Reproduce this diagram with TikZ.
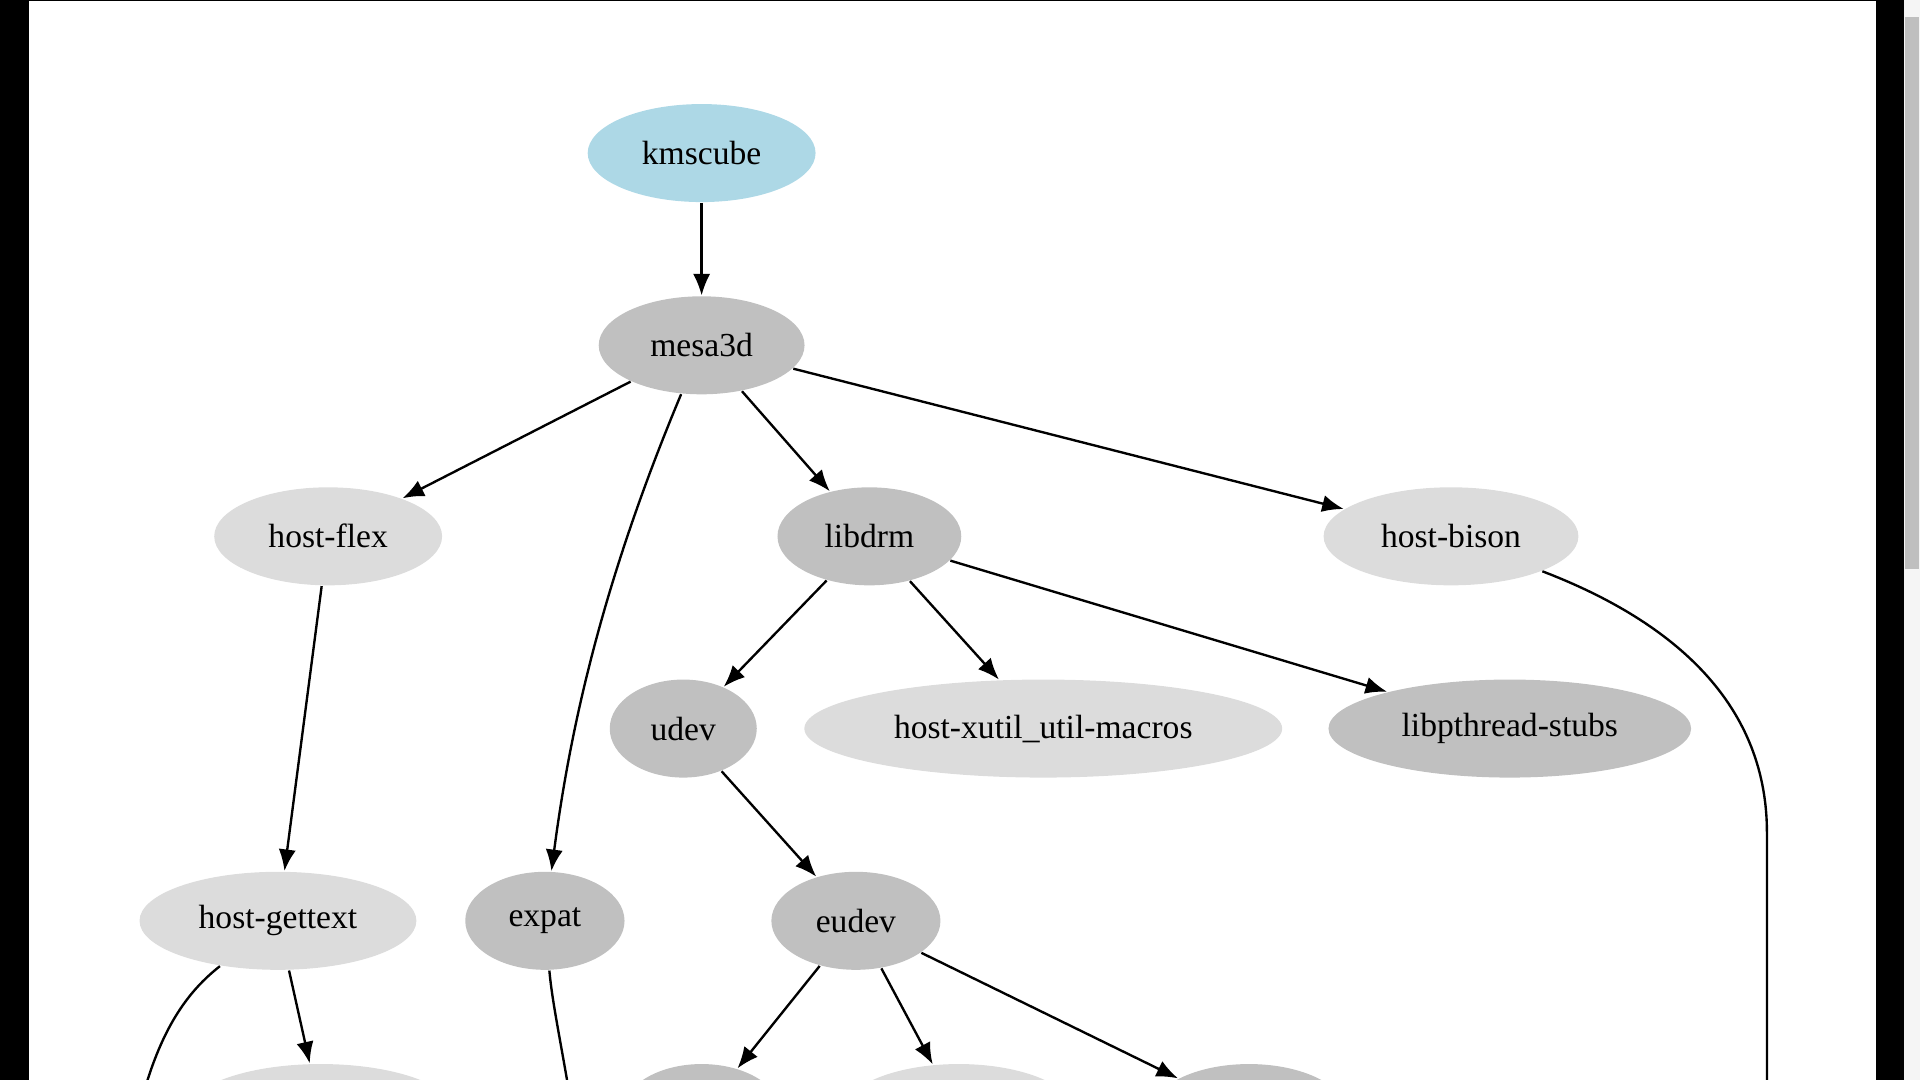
\documentclass[tikz,border=0pt]{standalone}
\usepackage{fontspec}
\setmainfont{Liberation Serif}
\usetikzlibrary{arrows.meta,shapes.geometric}
\definecolor{pkgblue}{RGB}{173,216,230}
\definecolor{pkgdark}{RGB}{192,192,192}
\definecolor{pkglight}{RGB}{220,220,220}
\begin{document}
\begin{tikzpicture}[x=0.01cm,y=-0.01cm,
    pkg/.style={ellipse, draw=none, minimum height=0.8cm, inner sep=0pt, font=\fontsize{7.8}{9}\selectfont},
    dark/.style={pkg, fill=pkgdark},
    light/.style={pkg, fill=pkglight},
    dep/.style={-{Latex[length=5pt,width=4pt]}, line width=0.55pt}]
    \useasboundingbox (0,0) rectangle (1568,882);
    \begin{scope}
    \clip (24,0) rectangle (1532,882);
    \node[pkg, fill=pkgblue, minimum width=1.86cm] (kmscube) at (573,125) {kmscube};
    \node[dark, minimum width=1.68cm] (mesa3d) at (573,282) {mesa3d};
    \node[light, minimum width=1.86cm] (hostflex) at (268,438) {host-flex};
    \node[dark, minimum width=1.5cm] (libdrm) at (710,438) {libdrm};
    \node[light, minimum width=2.08cm] (hostbison) at (1185,438) {host-bison};
    \node[dark, minimum width=1.2cm] (udev) at (558,595) {udev};
    \node[light, minimum width=3.9cm] (xutil) at (852,595) {host-xutil\_util-macros};
    \node[dark, minimum width=2.96cm] (pthread) at (1233,595) {libpthread-stubs};
    \node[light, minimum width=2.26cm] (hostgettext) at (227,752) {host-gettext};
    \node[dark, minimum width=1.3cm] (expat) at (445,752) {expat};
    \node[dark, minimum width=1.38cm] (eudev) at (699,752) {eudev};
    % cut off at the bottom
    \node[light, minimum width=2.2cm] (lowa) at (262,909) {};
    \node[dark, minimum width=1.3cm] (lowb) at (573,909) {};
    \node[light, minimum width=1.9cm] (lowc) at (783,909) {};
    \node[dark, minimum width=1.6cm] (lowd) at (1020,909) {};
    \coordinate (offa) at (100,980);
    \coordinate (offb) at (478,980);
    \coordinate (offc) at (1443,980);

    \draw[dep] (kmscube) -- (mesa3d);
    \draw[dep] (mesa3d) -- (hostflex);
    \draw[dep] (mesa3d) -- (libdrm);
    \draw[dep] (mesa3d) -- (hostbison);
    \draw[dep] (mesa3d) .. controls (490,480) and (465,600) .. (expat);
    \draw[dep] (hostflex) -- (hostgettext);
    \draw[dep] (libdrm) -- (udev);
    \draw[dep] (libdrm) -- (xutil);
    \draw[dep] (libdrm) -- (pthread);
    \draw[dep] (udev) -- (eudev);
    \draw[dep] (hostgettext) -- (lowa);
    \draw[dep] (eudev) -- (lowb);
    \draw[dep] (eudev) -- (lowc);
    \draw[dep] (eudev) -- (lowd);
    \draw[line width=0.55pt] (hostgettext) .. controls (140,820) and (115,870) .. (offa);
    \draw[line width=0.55pt] (expat) .. controls (452,830) and (465,880) .. (offb);
    \draw[line width=0.55pt] (hostbison) .. controls (1360,505) and (1443,570) .. (1443,680) -- (offc);
    \end{scope}
    % window frame
    \fill[black] (0,0) rectangle (24,882);
    \fill[black] (1532,0) rectangle (1555,882);
    \fill[black!4] (1555,0) rectangle (1568,882);
    \fill[black!25] (1556,14) rectangle (1567,465);
    \draw[line width=0.4pt] (24,0.5) -- (1532,0.5);
\end{tikzpicture}
\end{document}
